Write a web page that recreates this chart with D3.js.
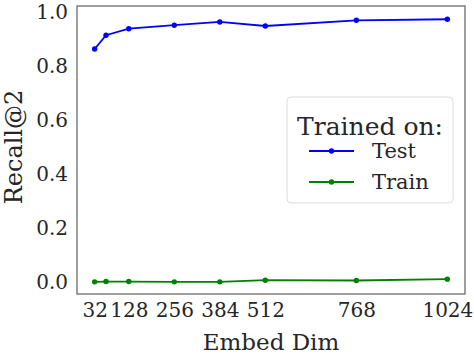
<!DOCTYPE html>
<html><head><meta charset="utf-8">
<script src="https://cdn.jsdelivr.net/npm/d3@7"></script>
<style>body{margin:0;background:#fff}svg{display:block}text{font-family:"DejaVu Serif",serif;fill:#262626}</style>
</head><body><svg id="c" width="474" height="354"></svg>
<script>
const dims = [32, 64, 128, 256, 384, 512, 768, 1024];
const testVals = [0.863, 0.914, 0.938, 0.951, 0.963, 0.948, 0.969, 0.973];
const trainVals = [0.001, 0.002, 0.002, 0.001, 0.001, 0.007, 0.006, 0.011];
const xTicks = [32, 128, 256, 384, 512, 768, 1024];
const yTicks = [0.0, 0.2, 0.4, 0.6, 0.8, 1.0];
const seriesNames = ["Test", "Train"];
const colors = ["#0000ff", "#008000"];

const svg = d3.select("#c");
const L = 77, R = 465, T = 6, B = 294;
const x = d3.scaleLinear().domain([-17.6, 1073.6]).range([L, R]);
const y = d3.scaleLinear().domain([-0.044, 1.022]).range([B, T]);

svg.append("g").attr("transform", `translate(0,${B})`)
  .call(d3.axisBottom(x).tickValues(xTicks).tickFormat(d3.format("d")).tickSize(0).tickPadding(9))
  .call(g => g.select(".domain").remove())
  .selectAll("text").style("font-size", "20px").style("font-family", "DejaVu Serif").attr("fill", "#262626");
svg.append("g").attr("transform", `translate(${L},0)`)
  .call(d3.axisLeft(y).tickValues(yTicks).tickFormat(d3.format(".1f")).tickSize(0).tickPadding(9))
  .call(g => g.select(".domain").remove())
  .selectAll("text").style("font-size", "20px").style("font-family", "DejaVu Serif").attr("fill", "#262626");

svg.append("rect").attr("x", L).attr("y", T).attr("width", R - L).attr("height", B - T)
  .attr("fill", "none").attr("stroke", "#6b6b6b").attr("stroke-width", 1.3);

const series = [testVals, trainVals];
const line = d3.line().x((d, i) => x(dims[i])).y(d => y(d));
series.forEach((vals, k) => {
  svg.append("path").datum(vals).attr("d", line).attr("fill", "none")
    .attr("stroke", colors[k]).attr("stroke-width", 1.8);
  svg.append("g").selectAll("circle").data(vals).join("circle")
    .attr("cx", (d, i) => x(dims[i])).attr("cy", d => y(d)).attr("r", 2.7)
    .attr("fill", colors[k]);
});

// axis labels
svg.append("text").attr("x", 271).attr("y", 350).attr("text-anchor", "middle")
  .style("font-size", "23px").text("Embed Dim");
svg.append("text").attr("transform", `translate(22,147) rotate(-90)`)
  .attr("text-anchor", "middle").style("font-size", "24px").text("Recall@2");

// legend
const lg = svg.append("g");
lg.append("rect").attr("x", 287).attr("y", 97).attr("width", 166).attr("height", 106)
  .attr("rx", 4).attr("fill", "#fff").attr("stroke", "#dcdcdc").attr("stroke-width", 1);
lg.append("text").attr("x", 370).attr("y", 135).attr("text-anchor", "middle")
  .style("font-size", "25px").text("Trained on:");
seriesNames.forEach((n, k) => {
  const yy = 151 + k * 31;
  lg.append("line").attr("x1", 309).attr("x2", 354).attr("y1", yy).attr("y2", yy)
    .attr("stroke", colors[k]).attr("stroke-width", 1.8);
  lg.append("circle").attr("cx", 331.5).attr("cy", yy).attr("r", 2.7).attr("fill", colors[k]);
  lg.append("text").attr("x", 372).attr("y", yy + 7).style("font-size", "21px").text(n);
});
</script></body></html>
